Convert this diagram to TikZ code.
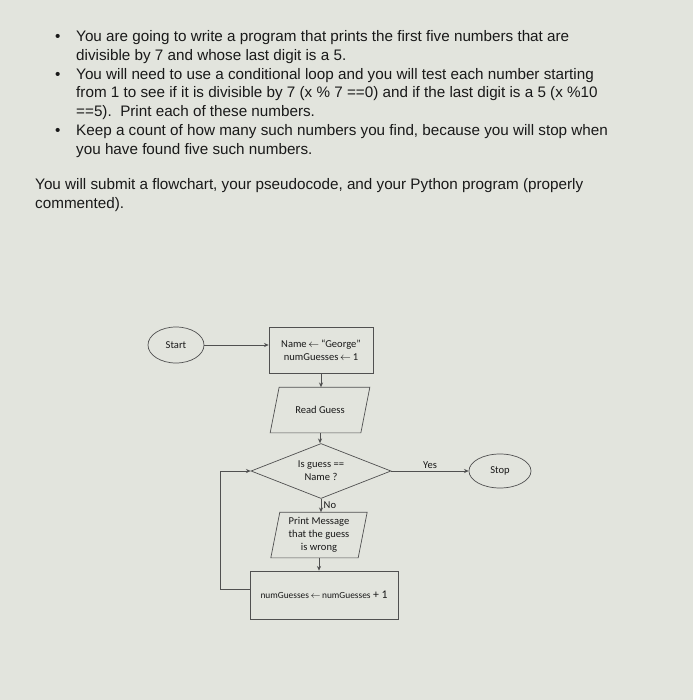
\documentclass[tikz,border=0pt]{standalone}
\usepackage{fontspec}
\setmainfont{Liberation Sans}
\newfontfamily\chartfont{Carlito}
\usetikzlibrary{arrows.meta,positioning,shapes.geometric}
\definecolor{paper}{RGB}{226,228,221}
\definecolor{ink}{RGB}{25,25,25}
\definecolor{edge}{RGB}{80,80,80}
\newcommand{\larr}{\,$\leftarrow$\,}
% slanted outline round a plain node
\newcommand{\ioframe}[1]{%
  \draw[draw=edge, line width=0.6pt] ([xshift=0.135cm]#1.north west) -- ([xshift=0.135cm]#1.north east)
    -- ([xshift=-0.135cm]#1.south east) -- ([xshift=-0.135cm]#1.south west) -- cycle;}

\tikzset{
  txtline/.style={font=\fontsize{13}{16}\selectfont, text=ink, anchor=base west, inner sep=0pt},
  blk/.style={draw=edge, line width=0.6pt, font=\chartfont\fontsize{9}{11}\selectfont, text=ink, align=center, inner sep=1pt},
  term/.style={blk, ellipse},
  proc/.style={blk, rectangle},
  io/.style={blk, rectangle, draw=none},
  decide/.style={blk, diamond, aspect=2.5},
  lbl/.style={font=\chartfont\fontsize{9}{11}\selectfont, text=ink, inner sep=2pt},
  conn/.style={draw=edge, line width=0.6pt, -{Stealth[length=4pt,width=3.5pt]}},
}

\begin{document}
\begin{tikzpicture}[x=0.03cm, y=-0.03cm]
\fill[paper] (0,0) rectangle (693,700);
\useasboundingbox (0,0) rectangle (693,700);

% assignment text
\node[txtline] (b1) at (55,41) {\textbullet};
\node[txtline] (l1) at (76,41) {You are going to write a program that prints the first five numbers that are};
\node[txtline] (l2) at (76,60) {divisible by 7 and whose last digit is a 5.};
\node[txtline] (b2) at (55,79) {\textbullet};
\node[txtline] (l3) at (76,79) {You will need to use a conditional loop and you will test each number starting};
\node[txtline] (l4) at (76,97) {from 1 to see if it is divisible by 7 (x \% 7 ==0) and if the last digit is a 5 (x \%10};
\node[txtline] (l5) at (76,116) {==5).\ \ Print each of these numbers.};
\node[txtline] (b3) at (55,135) {\textbullet};
\node[txtline] (l6) at (76,135) {Keep a count of how many such numbers you find, because you will stop when};
\node[txtline] (l7) at (76,154) {you have found five such numbers.};
\node[txtline] (l8) at (35,189) {You will submit a flowchart, your pseudocode, and your Python program (properly};
\node[txtline] (l9) at (35,208) {commented).};

% flowchart
\node[term, minimum width=1.68cm, minimum height=1.08cm] (start) at (176,345) {Start};
\node[proc, minimum width=3.12cm, minimum height=1.38cm] (init) at (321,350) {Name\larr“George”\\numGuesses\larr 1};
\node[io, minimum width=2.7cm, minimum height=1.35cm] (read) at (320,410) {Read Guess};
\ioframe{read}
\node[decide, minimum width=4.2cm, minimum height=1.65cm] (check) at (321,471) {Is guess ==\\Name ?};
\node[term, minimum width=1.86cm, minimum height=1.02cm] (stop) at (500,471) {Stop};
\node[io, minimum width=2.6cm, minimum height=1.35cm] (msg) at (319,535) {Print Message\\that the guess\\is wrong};
\ioframe{msg}
\node[proc, minimum width=4.44cm, minimum height=1.44cm] (upd) at (324,595)
  {{\fontsize{8}{9}\selectfont numGuesses\larr numGuesses} {\fontsize{10}{11}\selectfont + 1}};
\coordinate (back) at (220,589);

\draw[conn] (start.east) -- (start.east -| init.west);
\draw[conn] (init.south) -- (init.south |- read.north);
\draw[conn] (read.south) -- (read.south |- check.north);
\draw[conn] (check.east) -- node[lbl, above] {Yes} (stop.west);
\draw[conn] (check.south) -- node[lbl, right] {No} (check.south |- msg.north);
\draw[conn] (msg.south) -- (msg.south |- upd.north);
\draw[conn] (upd.west |- back) -- (back) |- (check.west);
\end{tikzpicture}
\end{document}
